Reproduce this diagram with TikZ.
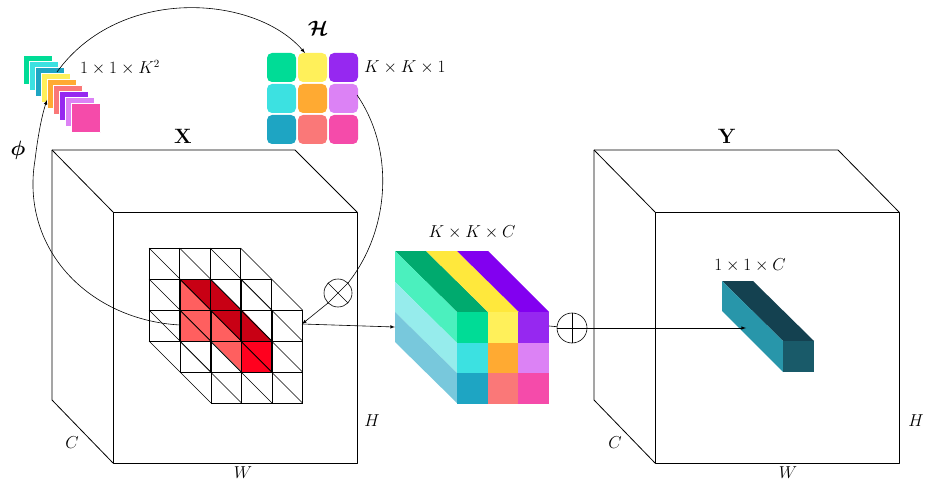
\documentclass[tikz,border=0pt]{standalone}
\usepackage{amsmath,bm}
\begin{document}
\begin{tikzpicture}[x=1pt,y=-1pt,line join=round,
  lbl/.style={font=\fontsize{16}{18}\selectfont,inner sep=0pt},
  big/.style={font=\fontsize{21}{24}\selectfont,inner sep=0pt},
  edge/.style={line width=0.8pt},
  arr/.style={-latex,line width=0.6pt}]
\useasboundingbox (0,0) rectangle (934,489);
\definecolor{g1}{RGB}{0,220,150}\definecolor{y1}{RGB}{255,240,90}\definecolor{p1}{RGB}{150,40,240}
\definecolor{c2}{RGB}{60,225,225}\definecolor{o2}{RGB}{255,170,50}\definecolor{l2}{RGB}{220,130,245}
\definecolor{b3}{RGB}{30,165,195}\definecolor{s3}{RGB}{250,120,120}\definecolor{k3}{RGB}{245,75,170}
\definecolor{tg}{RGB}{0,170,110}\definecolor{ty}{RGB}{255,232,60}\definecolor{tp}{RGB}{130,0,240}
\definecolor{la}{RGB}{75,240,190}\definecolor{lb}{RGB}{150,236,236}\definecolor{lc}{RGB}{120,200,220}
\definecolor{ba}{RGB}{20,65,80}\definecolor{bb}{RGB}{40,150,170}\definecolor{bc}{RGB}{25,90,105}
\definecolor{rl}{RGB}{255,95,95}\definecolor{rd}{RGB}{200,0,20}\definecolor{rb}{RGB}{255,0,30}
% cube X
\draw[edge] (52,150) -- (295,150) -- (357,212);
\draw[edge] (52,150) -- (52,400) -- (113,463);
\draw[edge] (52,150) -- (113,212);
\draw[edge] (113,212) rectangle (357,463);
% red cells
\fill[rl] (180,280) -- (180,341) -- (211,341) -- (242,372) -- (242,342) -- cycle;
\fill[rd] (180,280) -- (211,280) -- (273,342) -- (242,342) -- cycle;
\fill[rd] (211,310) -- (242,310) -- (273,342) -- (242,342) -- cycle;
\fill[rb] (242,342) rectangle (273,372);
% grid 3x3 with depth 2
\foreach \d in {0,1,2}{
  \foreach \i in {0,1,2,3}{
    \draw[line width=0.7pt] (149+31*\d+30.5*\i,248+31*\d) -- (149+31*\d+30.5*\i,341+31*\d);
    \draw[line width=0.7pt] (149+31*\d,248+31*\d+31*\i) -- (241+31*\d,248+31*\d+31*\i);
  }}
\foreach \i in {0,1,2,3}{\foreach \j in {0,1,2,3}{
  \draw[line width=0.7pt] (149+30.5*\i,248+31*\j) -- (211+30.5*\i,310+31*\j);}}
% stack
\foreach \c [count=\n from 0] in {g1,c2,b3,y1,o2,s3,p1,l2,k3}{
  \fill[\c,draw=white,line width=0.8pt] (23+6.1*\n,55+6.1*\n) rectangle ++(29,29);}
\node[lbl,anchor=west] (s) at (80,68) {$1\times1\times K^2$};
% H grid
\foreach \c [count=\n from 0] in {g1,y1,p1,c2,o2,l2,b3,s3,k3}{
  \pgfmathsetmacro\cx{267+31*mod(\n,3)}\pgfmathsetmacro\cy{53+31*int(\n/3)}
  \fill[\c,rounded corners=5pt] (\cx,\cy) rectangle ++(29,29);}
\node[lbl,anchor=west] (hk) at (364,67) {$K\times K\times 1$};
\node[big] (H) at (318,28) {$\bm{\mathcal{H}}$};
\node[big] (phi) at (18,150) {$\bm{\phi}$};
\node[big] (X) at (183,136) {$\mathbf{X}$};
\node[lbl] at (72,443) {$C$};
\node[lbl] at (372,421) {$H$};
\node[lbl] at (243,473) {$W$};
% colored block
\fill[tg] (395,251) -- (426,251) -- (488,312) -- (457,312) -- cycle;
\fill[ty] (426,251) -- (457,251) -- (519,312) -- (488,312) -- cycle;
\fill[tp] (457,251) -- (488,251) -- (549,312) -- (519,312) -- cycle;
\fill[la] (395,251) -- (457,312) -- (457,343) -- (395,282) -- cycle;
\fill[lb] (395,282) -- (457,343) -- (457,373) -- (395,312) -- cycle;
\fill[lc] (395,312) -- (457,373) -- (457,403) -- (395,342) -- cycle;
\foreach \c [count=\n from 0] in {g1,y1,p1,c2,o2,l2,b3,s3,k3}{
  \pgfmathsetmacro\cx{457+30.5*mod(\n,3)}\pgfmathsetmacro\cy{312+30.5*int(\n/3)}
  \fill[\c] (\cx,\cy) rectangle ++(30.6,30.6);}
\coordinate (blockL) at (395,327);
\coordinate (blockR) at (549,326);
\node[lbl] at (472,232) {$K\times K\times C$};
% cube Y
\draw[edge] (594,150) -- (838,150) -- (899,212);
\draw[edge] (594,150) -- (594,400) -- (655,463);
\draw[edge] (594,150) -- (655,212);
\draw[edge] (655,212) rectangle (899,463);
\fill[ba] (722,281) -- (753,281) -- (814,341) -- (783,341) -- cycle;
\fill[bb] (722,281) -- (783,341) -- (783,372) -- (722,311) -- cycle;
\fill[bc] (783,341) rectangle (814,372);
\node[big] (Y) at (727,136) {$\mathbf{Y}$};
\node[lbl] at (750,265) {$1\times1\times C$};
\node[lbl] at (615,443) {$C$};
\node[lbl] at (916,421) {$H$};
\node[lbl] at (788,473) {$W$};
% operators
\node[draw,circle,minimum size=28pt,inner sep=0pt,line width=0.6pt] (ot) at (338,293) {};
\draw[line width=0.6pt] (ot.north west) -- (ot.south east) (ot.north east) -- (ot.south west);
\node[draw,circle,minimum size=30pt,inner sep=0pt,line width=0.6pt] (op) at (572,328) {};
\draw[line width=0.6pt] (op.north) -- (op.south) (op.west) -- (op.east);
\coordinate (gr) at (302,324);
\coordinate (Yin) at (746,328);
\coordinate (st) at (57,72);
\coordinate (hin) at (305,53);
\coordinate (hout) at (357,95);
\coordinate (gl) at (180,325);
\coordinate (sin) at (47,100);
% connectors
\draw[arr] (st) .. controls (120,-15) and (255,-5) .. (hin);
\draw[line width=0.6pt] (hout) .. controls (395,150) and (390,230) .. (ot.north east);
\draw[arr] (ot.south west) -- (gr);
\draw[arr] (gl) .. controls (90,320) and (20,250) .. (35,160) .. controls (38,135) and (42,115) .. (sin);
\draw[arr] (gr) -- (blockL);
\draw[line width=0.6pt] (blockR) -- (op);
\draw[arr] (op) -- (Yin);
\end{tikzpicture}
\end{document}
